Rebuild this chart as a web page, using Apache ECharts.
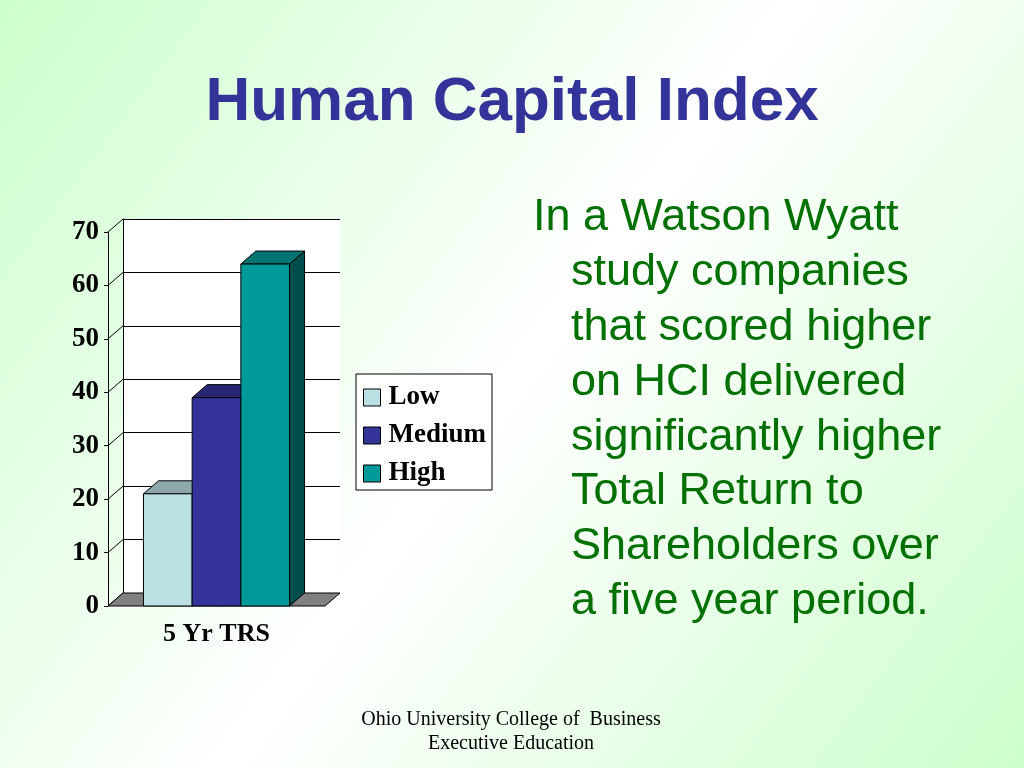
<!DOCTYPE html>
<html>
<head>
<meta charset="utf-8">
<script src="https://cdn.jsdelivr.net/npm/echarts@6/dist/echarts.min.js"></script>
<style>
html,body{margin:0;padding:0;}
#main{width:1024px;height:768px;}
</style>
</head>
<body>
<div id="main"></div>
<script>
// ---- data ----
const categories = ['5 Yr TRS'];
const seriesNames = ['Low', 'Medium', 'High'];
const lowValues = [21];
const mediumValues = [39];
const highValues = [64];
const yTicks = [0, 10, 20, 30, 40, 50, 60, 70];
const titleText = 'Human Capital Index';
const bodyFirstLine = 'In a Watson Wyatt';
const bodyOtherLines = ['study companies', 'that scored higher', 'on HCI delivered',
  'significantly higher', 'Total Return to', 'Shareholders over', 'a five year period.'];
const footerLines = ['Ohio University College of  Business', 'Executive Education'];

// ---- style ----
const DX = 15, DY = -13;
const BAR_FRAC = 0.2244;
const faceColors = [
  { front: '#bbe0e3', top: '#8ca8aa', side: '#5e7072' },
  { front: '#333399', top: '#262673', side: '#1a1a4d' },
  { front: '#009999', top: '#007373', side: '#004d4d' }
];
const serif = '"Liberation Serif", "Times New Roman", serif';
const sans = '"Liberation Sans", Arial, sans-serif';

function barRenderer(idx) {
  const c = faceColors[idx];
  return function (params, api) {
    const cat = api.value(0);
    const v = api.value(1);
    const base = api.coord([cat, 0]);
    const top = api.coord([cat, v]);
    const bw = api.size([1, 0])[0] * BAR_FRAC;
    const x0 = base[0] + (idx - 1.5) * bw;
    const x1 = x0 + bw;
    const yb = base[1], yt = top[1];
    const stroke = { stroke: '#000', lineWidth: 1 };
    return {
      type: 'group',
      children: [
        { type: 'polygon', shape: { points: [[x1, yt], [x1, yb], [x1 + DX, yb + DY], [x1 + DX, yt + DY]] },
          style: Object.assign({ fill: c.side }, stroke) },
        { type: 'polygon', shape: { points: [[x0, yt], [x1, yt], [x1 + DX, yt + DY], [x0 + DX, yt + DY]] },
          style: Object.assign({ fill: c.top }, stroke) },
        { type: 'rect', shape: { x: x0, y: yt, width: bw, height: yb - yt },
          style: Object.assign({ fill: c.front }, stroke) }
      ]
    };
  };
}

const valuesList = [lowValues, mediumValues, highValues];
const barSeries = seriesNames.map(function (name, i) {
  return {
    name: name,
    type: 'custom',
    xAxisIndex: 0, yAxisIndex: 0,
    z: 5,
    itemStyle: { color: faceColors[i].front, borderColor: '#000', borderWidth: 1 },
    renderItem: barRenderer(i),
    data: categories.map(function (c, k) { return [k, valuesList[i][k]]; })
  };
});

const chart = echarts.init(document.getElementById('main'), null, { renderer: 'canvas' });
chart.setOption({
  animation: false,
  backgroundColor: {
    type: 'linear', x: 0, y: 0, x2: 1, y2: 1,
    colorStops: [
      { offset: 0, color: '#ccffcc' },
      { offset: 0.5, color: '#ffffff' },
      { offset: 1, color: '#ccffcc' }
    ]
  },
  title: {
    text: titleText,
    left: 'center',
    top: 67,
    textStyle: { fontFamily: sans, fontWeight: 'bold', fontSize: 62, lineHeight: 62, color: '#333399' }
  },
  legend: {
    data: seriesNames,
    orient: 'vertical',
    left: 356, top: 374,
    itemWidth: 17, itemHeight: 17, itemGap: 11,
    padding: [10, 6, 3, 7],
    backgroundColor: '#ffffff',
    borderColor: '#000000', borderWidth: 1,
    icon: 'rect',
    itemStyle: { borderColor: '#000', borderWidth: 1 },
    textStyle: { fontFamily: serif, fontWeight: 'bold', fontSize: 27, lineHeight: 25, color: '#000', padding: [0, 0, 0, 3] }
  },
  grid: [
    { left: 108, top: 232, width: 217, height: 374, containLabel: false },
    { left: 123, top: 219, width: 217, height: 374, show: true, backgroundColor: '#ffffff', borderWidth: 0, z: 0 }
  ],
  xAxis: [
    { type: 'category', gridIndex: 0, data: categories,
      axisLine: { show: false }, axisTick: { show: false }, splitLine: { show: false },
      axisLabel: { margin: 15, fontFamily: serif, fontWeight: 'bold', fontSize: 26, color: '#000' } },
    { type: 'category', gridIndex: 1, data: categories, show: false }
  ],
  yAxis: [
    { type: 'value', gridIndex: 0, min: 0, max: 70, interval: 10,
      axisLine: { show: true, lineStyle: { color: '#000', width: 1 } },
      axisTick: { show: true, length: 4, lineStyle: { color: '#000' } },
      splitLine: { show: false },
      axisLabel: { margin: 9, fontFamily: serif, fontWeight: 'bold', fontSize: 27, color: '#000' } },
    { type: 'value', gridIndex: 1, min: 0, max: 70, interval: 10,
      axisLine: { show: true, lineStyle: { color: '#000', width: 1 } },
      axisTick: { show: false }, axisLabel: { show: false },
      splitLine: { show: true, lineStyle: { color: '#000', width: 1 } } }
  ],
  series: [
    {
      name: 'sideWall', type: 'custom', xAxisIndex: 0, yAxisIndex: 0, z: 2,
      silent: true, legendHoverLink: false,
      renderItem: function (params, api) {
        const p = api.coord([0, api.value(0)]);
        const left = p[0] - api.size([1, 0])[0] / 2;
        return { type: 'line', shape: { x1: left, y1: p[1], x2: left + DX, y2: p[1] + DY },
          style: { stroke: '#000', lineWidth: 1 } };
      },
      data: yTicks.map(function (t) { return [t]; })
    },
    {
      name: 'floor', type: 'custom', xAxisIndex: 0, yAxisIndex: 0, z: 3,
      silent: true,
      renderItem: function (params, api) {
        const p = api.coord([0, 0]);
        const w = api.size([1, 0])[0];
        const L = p[0] - w / 2, R = p[0] + w / 2, y = p[1];
        return { type: 'polygon', shape: { points: [[L, y], [R, y], [R + DX, y + DY], [L + DX, y + DY]] },
          style: { fill: '#808080', stroke: '#000', lineWidth: 1 } };
      },
      data: [[0]]
    }
  ].concat(barSeries),
  graphic: [
    { type: 'text', left: 533, top: 218 - 27.35, z: 10,
      style: { text: bodyFirstLine, font: '45px ' + sans, fill: '#007000', lineHeight: 54.7 } },
    { type: 'text', left: 571, top: 273 - 27.35, z: 10,
      style: { text: bodyOtherLines.join('\n'), font: '45px ' + sans, fill: '#007000', lineHeight: 54.7 } },
    { type: 'text', z: 10,
      style: { text: footerLines.join('\n'), x: 511, y: 708, align: 'center', verticalAlign: 'top',
        font: '20px ' + serif, fill: '#000', lineHeight: 24 } }
  ]
});
</script>
</body>
</html>
